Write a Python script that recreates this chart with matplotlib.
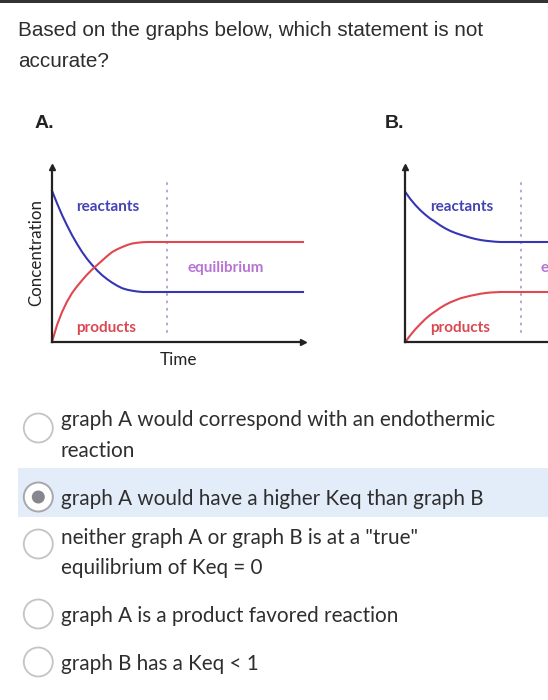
import matplotlib
matplotlib.use("Agg")
import matplotlib.pyplot as plt
from matplotlib.patches import Circle, Rectangle

W, H = 548, 700

# curve points (time, concentration)
times = [0.0, 0.2, 0.4, 0.6, 0.8, 1.0, 1.2, 1.4, 1.6, 1.8, 2.0,
         2.2, 2.4, 2.6, 2.8, 3.0, 3.2, 3.4, 3.6, 3.8, 4.0, 10.0]

react_a = [6.05, 5.55, 5.08, 4.66, 4.27, 3.92, 3.6, 3.32, 3.08, 2.86, 2.67,
           2.51, 2.37, 2.25, 2.15, 2.09, 2.05, 2.02, 2.0, 2.0, 2.0, 2.0]
prod_a = [0.0, 0.68, 1.2, 1.62, 1.96, 2.23, 2.47, 2.7, 2.9, 3.08, 3.26,
          3.44, 3.6, 3.71, 3.8, 3.88, 3.94, 3.97, 3.99, 4.0, 4.0, 4.0]

react_b = [6.0, 5.72, 5.48, 5.27, 5.09, 4.93, 4.8, 4.66, 4.54, 4.44, 4.36,
           4.29, 4.23, 4.17, 4.12, 4.08, 4.05, 4.03, 4.01, 4.0, 4.0, 4.0]
prod_b = [0.0, 0.27, 0.51, 0.72, 0.92, 1.09, 1.23, 1.37, 1.49, 1.59, 1.67,
          1.75, 1.8, 1.85, 1.89, 1.93, 1.96, 1.98, 1.99, 2.0, 2.0, 2.0]

equilibrium_t = 4.6

question = ["Based on the graphs below, which statement is not", "accurate?"]
options = [
    ["graph A would correspond with an endothermic", "reaction"],
    ["graph A would have a higher Keq than graph B"],
    ["neither graph A or graph B is at a \"true\"", "equilibrium of Keq = 0"],
    ["graph A is a product favored reaction"],
    ["graph B has a Keq < 1"],
]
selected = 1

BLUE = "#3636b4"
RED = "#e0474f"
PURPLE = "#b874d4"
TEXT = "#2e2e2e"

fig = plt.figure(figsize=(W / 100, H / 100), dpi=100)
base = fig.add_axes([0, 0, 1, 1])
base.set_xlim(0, W)
base.set_ylim(H, 0)
base.axis("off")

# dark strip along the top edge
base.add_patch(Rectangle((0, 0), W, 3, color="#333333", lw=0))

for i, line in enumerate(question):
    base.text(18, 36 + 31 * i, line, fontsize=14.9, family="Liberation Sans",
              color=TEXT, va="baseline")

base.text(35, 128, "A.", fontsize=14, family="Liberation Sans",
          weight="bold", color="#222222", va="baseline")
base.text(385, 128, "B.", fontsize=14, family="Liberation Sans",
          weight="bold", color="#222222", va="baseline")


def draw_graph(left_px, react, prod, show_time):
    ax = fig.add_axes([left_px / W, (H - 342) / H, 251 / W, 175 / H])
    ax.set_xlim(0, 10)
    ax.set_ylim(0, 7)
    ax.patch.set_alpha(0)
    for side in ("top", "right"):
        ax.spines[side].set_visible(False)
    for side in ("left", "bottom"):
        ax.spines[side].set_linewidth(1.6)
        ax.spines[side].set_color("#222222")
    ax.set_xticks([])
    ax.set_yticks([])
    ax.plot(1, 0, ">", color="#222222", ms=5, transform=ax.transAxes, clip_on=False)
    ax.plot(0, 1, "^", color="#222222", ms=5, transform=ax.transAxes, clip_on=False)

    ax.plot([equilibrium_t, equilibrium_t], [0.4, 6.5], color="#b9a0d8",
            lw=1.4, ls=(0, (0.6, 3.2)), dash_capstyle="round")
    ax.plot(times, react, color=BLUE, lw=1.5, clip_on=False)
    ax.plot(times, prod, color=RED, lw=1.5, clip_on=False)

    ax.text(0.98, 5.24, "reactants", fontsize=11, family="Lato",
            weight="bold", color="#4343b6", va="baseline")
    ax.text(0.98, 0.4, "products", fontsize=11, family="Lato",
            weight="bold", color="#da4953", va="baseline")
    ax.text(5.38, 2.8, "equilibrium", fontsize=11, family="Lato",
            weight="bold", color=PURPLE, va="baseline")
    if show_time:
        ax.text(5.04, -0.92, "Time", fontsize=12.3, family="Lato",
                color="#222222", ha="center", va="baseline", clip_on=False)
        ax.text(-0.64, 3.56, "Concentration", fontsize=12.2, family="Lato",
                color="#222222", rotation=90, ha="center", va="center")
    return ax


draw_graph(52, react_a, prod_a, True)
draw_graph(405.3, react_b, prod_b, False)

# answer choices
baselines = [[426, 457], [505], [544, 574], [622], [670]]
circle_y = [428, 497, 544, 614, 662]
base.add_patch(Rectangle((18, 468), W - 18, 49, color="#e3edf9", lw=0))
for i, lines in enumerate(options):
    cy = circle_y[i]
    if i == selected:
        base.add_patch(Circle((38.3, cy), 14.5, facecolor="white",
                              edgecolor="#a8a8ac", lw=1.4))
        base.add_patch(Circle((38.3, cy), 6.5, facecolor="#86868c", lw=0))
    else:
        base.add_patch(Circle((38.3, cy), 14.5, facecolor="white",
                              edgecolor="#c4c4c4", lw=1.3))
    for text, yb in zip(lines, baselines[i]):
        base.text(61, yb, text, fontsize=14.85, family="Lato", color=TEXT,
                  va="baseline")

fig.savefig("out.png", dpi=100)
